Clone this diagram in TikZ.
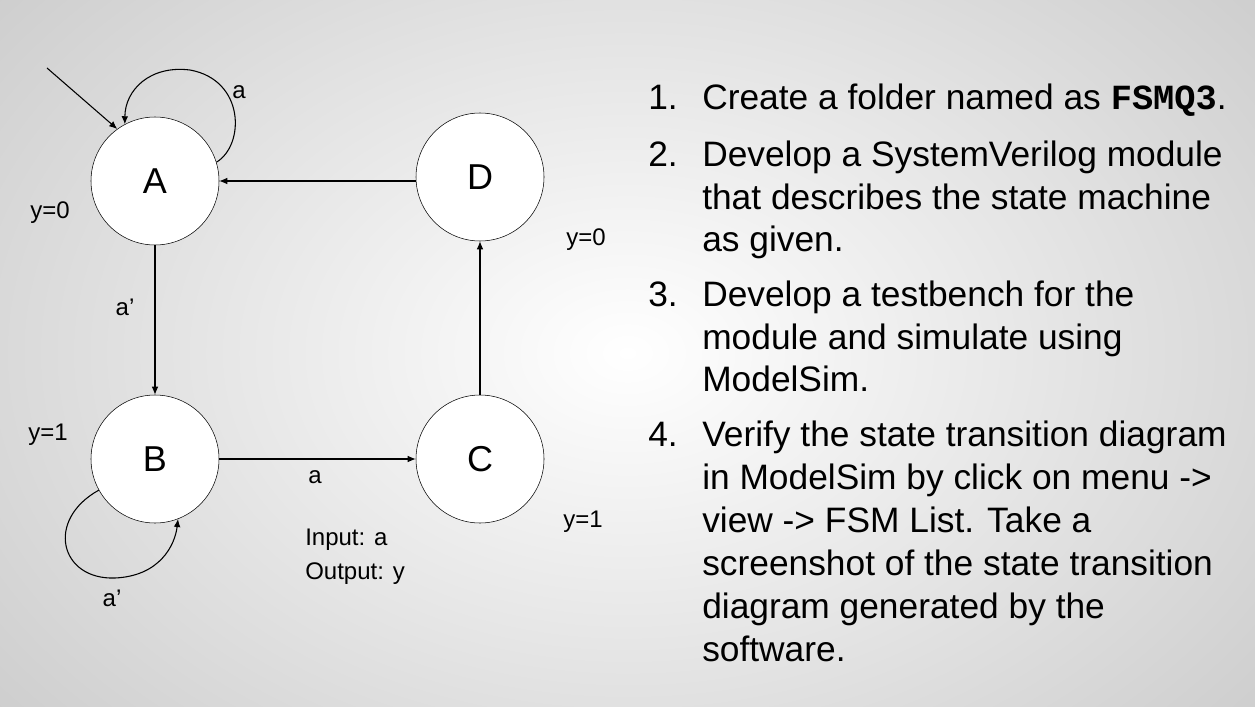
\documentclass[tikz,border=0pt]{standalone}
\usepackage{fontspec}
\setmainfont{Liberation Sans}
\setmonofont{Liberation Mono}
\usetikzlibrary{arrows.meta}
\begin{document}
\begin{tikzpicture}[x=0.75pt,y=-0.75pt,
  st/.style={circle,draw,fill=white,minimum size=96pt,inner sep=0pt,font=\fontsize{27}{30}\selectfont},
  lb/.style={font=\fontsize{18}{22}\selectfont,inner sep=0pt},
  tx/.style={font=\fontsize{26.5}{30}\selectfont,inner sep=0pt,anchor=mid west},
  ar/.style={-{Latex[length=6pt,width=5pt]},line width=0.8pt}]
\useasboundingbox (0,0) rectangle (1255,706);
\shade[inner color=white,outer color=black!22] (-300,-300) rectangle (1555,1006);
\node[st] (A) at (155,181) {A};
\node[st] (D) at (480,177) {D};
\node[st] (B) at (155,459) {B};
\node[st] (C) at (480,459) {C};
\coordinate (init) at (47,68);
\draw[ar] (init) -- (A.126);
\draw[ar] (D.west |- 0,181) -- (A.east |- 0,181);
\draw[ar] (A) -- (B);
\draw[ar] (B) -- (C);
\draw[ar] (C) -- (D);
\draw[ar] (A.17) .. controls (245,145) and (245,80) .. (190,70) .. controls (150,65) and (125,90) .. (A.118);
\draw[ar] (B.209) .. controls (45,520) and (60,580) .. (115,578) .. controls (160,576) and (175,545) .. (B.-69);
\node[lb] (la) at (239,92) {a};
\node[lb] (y0a) at (50,213) {y=0};
\node[lb] (lab) at (125,307) {a’};
\node[lb] (y1b) at (48,435) {y=1};
\node[lb] (lbc) at (315,477) {a};
\node[lb] (lbb) at (112,598) {a’};
\node[lb] (y0d) at (586,240) {y=0};
\node[lb] (y1c) at (583,522) {y=1};
\node[lb,anchor=west] (in) at (305,540) {Input: a};
\node[lb,anchor=west] (out) at (305,574) {Output: y};
\node[tx] (n1) at (648,106) {1.};
\node[tx] (t1) at (702,106) {Create a folder named as \textbf{\texttt{FSMQ3}}.};
\node[tx] (n2) at (648,163) {2.};
\node[tx] (t2a) at (702,163) {Develop a SystemVerilog module};
\node[tx] (t2b) at (702,206) {that describes the state machine};
\node[tx] (t2c) at (702,248) {as given.};
\node[tx] (n3) at (648,303) {3.};
\node[tx] (t3a) at (702,303) {Develop a testbench for the};
\node[tx] (t3b) at (702,346) {module and simulate using};
\node[tx] (t3c) at (702,388) {ModelSim.};
\node[tx] (n4) at (648,443) {4.};
\node[tx] (t4a) at (702,443) {Verify the state transition diagram};
\node[tx] (t4b) at (702,486) {in ModelSim by click on menu -{}>};
\node[tx] (t4c) at (702,529) {view -{}> FSM List. Take a};
\node[tx] (t4d) at (702,572) {screenshot of the state transition};
\node[tx] (t4e) at (702,615) {diagram generated by the};
\node[tx] (t4f) at (702,658) {software.};
\end{tikzpicture}
\end{document}
